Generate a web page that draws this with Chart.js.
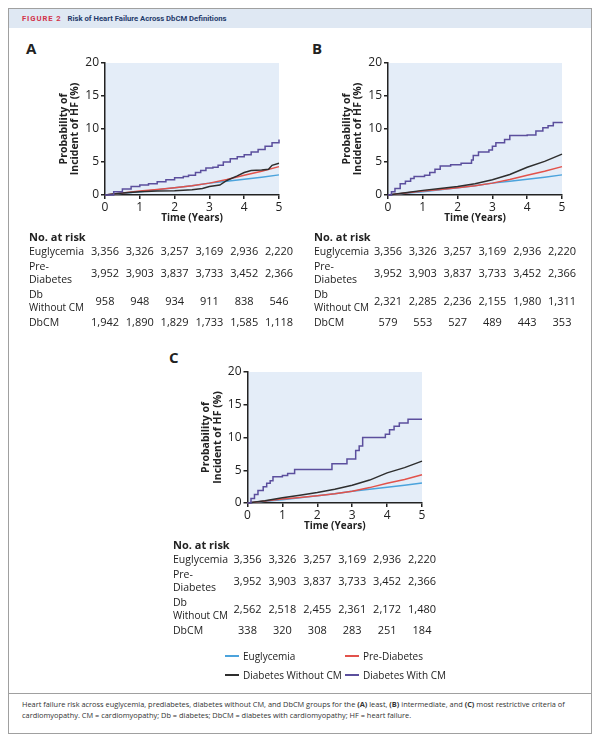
<!DOCTYPE html>
<html>
<head>
<meta charset="utf-8">
<script src="https://cdn.jsdelivr.net/npm/chart.js@4.4.1/dist/chart.umd.min.js"></script>
<style>
body{margin:0;background:#fff;font-family:"Open Sans",sans-serif;color:#222;}
#page{position:relative;width:600px;height:741px;overflow:hidden;background:#fff;}
.abs{position:absolute;}
#frame{left:8px;top:8px;width:582px;height:684px;border:1px solid #a0a0a0;}
#capbox{left:8px;top:692px;width:582px;height:41px;border:1px solid #a0a0a0;border-top:none;}
#header{left:9px;top:9px;width:582px;height:19px;background:#dfe8f3;font-family:Roboto,sans-serif;font-weight:bold;font-size:7.7px;line-height:19px;white-space:nowrap;}
#header .fig{color:#d2334a;letter-spacing:0.9px;margin-left:13px;margin-right:6px;}
#header .ttl{color:#1f3b6b;}
.letter{font-weight:bold;font-size:15px;color:#222;}
.panel{position:absolute;}
#caption{left:22px;top:699px;width:552px;font-size:7.4px;line-height:11px;color:#333;}
.leg{position:absolute;font-size:10px;white-space:nowrap;height:14px;line-height:14px;}
.leg span.ln{display:inline-block;width:14px;height:2px;margin-right:4px;position:relative;top:-3px;}
</style>
</head>
<body>
<div id="page">
  <div id="frame" class="abs"></div>
  <div id="capbox" class="abs"></div>
  <div id="header" class="abs"><span class="fig">FIGURE 2</span><span class="ttl">Risk of Heart Failure Across DbCM Definitions</span></div>
  <div class="abs letter" style="left:26px;top:38px;">A</div>
  <div class="abs letter" style="left:312px;top:38px;">B</div>
  <div class="abs letter" style="left:169px;top:347px;">C</div>
  <div class="panel" style="left:0px;top:30px;width:300px;height:310px;"><canvas id="chartA"></canvas></div>
  <div class="panel" style="left:300px;top:30px;width:290px;height:310px;"><canvas id="chartB"></canvas></div>
  <div class="panel" style="left:150px;top:340px;width:300px;height:310px;"><canvas id="chartC"></canvas></div>
  <div id="legend"></div>
  <div id="caption" class="abs">Heart failure risk across euglycemia, prediabetes, diabetes without CM, and DbCM groups for the <b>(A)</b> least, <b>(B)</b> intermediate, and <b>(C)</b> most restrictive criteria of cardiomyopathy. CM = cardiomyopathy; Db = diabetes; DbCM = diabetes with cardiomyopathy; HF = heart failure.</div>
</div>
<script>
// series names / colours
var seriesNames = ['Euglycemia', 'Pre-Diabetes', 'Diabetes Without CM', 'Diabetes With CM'];
var seriesColors = ['#4ba3dc', '#e2524b', '#2e2e2e', '#5b4f9d'];

// x ticks (years) = risk table columns
var years = [0, 1, 2, 3, 4, 5];
var yTicks = [0, 5, 10, 15, 20];

// risk table row labels
var riskLabels = [['Euglycemia'], ['Pre-', 'Diabetes'], ['Db', 'Without CM'], ['DbCM']];

// numbers at risk
var riskEuglycemia = ['3,356', '3,326', '3,257', '3,169', '2,936', '2,220'];
var riskPreDiabetes = ['3,952', '3,903', '3,837', '3,733', '3,452', '2,366'];
var riskDbA = ['958', '948', '934', '911', '838', '546'];
var riskDbcmA = ['1,942', '1,890', '1,829', '1,733', '1,585', '1,118'];
var riskDbB = ['2,321', '2,285', '2,236', '2,155', '1,980', '1,311'];
var riskDbcmB = ['579', '553', '527', '489', '443', '353'];
var riskDbC = ['2,562', '2,518', '2,455', '2,361', '2,172', '1,480'];
var riskDbcmC = ['338', '320', '308', '283', '251', '184'];

// cumulative incidence curves [years, %]
var euglycemiaCurve = [[0,0],[0.5,0.25],[1,0.5],[1.5,0.8],[2,1.1],[2.5,1.4],[3,1.8],[3.5,2.1],[4,2.4],[4.5,2.7],[5,3.05]];
var preDiabetesCurve = [[0,0],[0.5,0.3],[1,0.6],[1.5,0.85],[2,1.1],[2.5,1.4],[3,1.8],[3.5,2.35],[4,3.0],[4.5,3.6],[5,4.3]];

var dbCurveA = [[0,0],[0.5,0.3],[1,0.5],[1.5,0.6],[2,0.65],[2.5,0.8],[2.8,1.0],[3,1.3],[3.3,1.5],[3.5,2.2],[3.8,2.9],[4,3.4],[4.2,3.7],[4.5,3.8],[4.7,3.9],[4.8,4.5],[5,4.8]];
var dbcmCurveA = [[0,0],[0.25,0.5],[0.5,0.9],[0.75,1.3],[1,1.5],[1.25,1.7],[1.5,2.0],[1.75,2.3],[2,2.6],[2.25,2.8],[2.4,3.0],[2.6,3.4],[2.75,3.7],[2.9,4.1],[3.1,4.2],[3.25,4.5],[3.4,5.0],[3.6,5.5],[3.8,5.8],[4,6.1],[4.2,6.5],[4.4,6.9],[4.6,7.4],[4.8,7.9],[5,8.4]];

var dbCurveB = [[0,0],[0.5,0.35],[1,0.7],[1.5,1.0],[2,1.3],[2.5,1.7],[3,2.3],[3.5,3.1],[4,4.2],[4.5,5.1],[5,6.2]];
var dbcmCurveB = [[0,0],[0.1,0.5],[0.2,1.0],[0.35,1.7],[0.5,2.1],[0.65,2.5],[0.75,2.8],[1.05,3.0],[1.2,3.4],[1.35,3.9],[1.5,4.4],[1.8,4.6],[2.1,4.8],[2.4,5.3],[2.45,6.0],[2.6,6.5],[2.9,6.8],[3.0,7.4],[3.1,7.9],[3.35,8.4],[3.5,9.0],[4.0,9.1],[4.25,9.7],[4.45,10.2],[4.6,10.5],[4.75,11.0],[5,11.1]];

var dbCurveC = [[0,0],[0.5,0.35],[1,0.8],[1.5,1.2],[2,1.6],[2.5,2.1],[3,2.7],[3.5,3.5],[4,4.6],[4.5,5.4],[5,6.4]];
var dbcmCurveC = [[0,0],[0.1,0.7],[0.2,1.3],[0.3,1.9],[0.45,2.5],[0.55,3.0],[0.65,3.4],[0.73,4.0],[1.0,4.2],[1.15,4.5],[1.35,5.1],[2.42,6.0],[2.85,6.7],[3.1,8.0],[3.2,8.7],[3.3,10.0],[3.95,10.5],[4.07,11.2],[4.2,11.7],[4.35,12.2],[4.6,12.8],[5,12.8]];

function toPoints(curve){
    return curve.map(function(p){ return {x: p[0], y: p[1]}; });
}

// light blue plot background
var plotBg = {
    id: 'plotBg',
    beforeDraw: function(chart){
        var a = chart.chartArea, ctx = chart.ctx;
        ctx.save();
        ctx.fillStyle = '#e4edf8';
        ctx.fillRect(a.left, a.top, a.right - a.left, a.bottom - a.top);
        ctx.restore();
    }
};

// "No. at risk" table under the x axis, columns on the year ticks
function riskTable(rows, labelX){
    return {
        id: 'riskTable',
        afterDraw: function(chart){
            var ctx = chart.ctx, b = chart.chartArea.bottom, xs = chart.scales.x;
            var rowY = [57, 79, 107, 128];
            ctx.save();
            ctx.fillStyle = '#222';
            ctx.textBaseline = 'middle';
            ctx.font = 'bold 11px "Open Sans"';
            ctx.textAlign = 'left';
            ctx.fillText('No. at risk', labelX, b + 43);
            riskLabels.forEach(function(lab, r){
                ctx.font = '10.5px "Open Sans"';
                ctx.textAlign = 'left';
                // labels squeezed a bit so they don't run into the first column
                if(lab.length == 1){
                    ctx.fillText(lab[0], labelX, b + rowY[r], 56);
                }else{
                    ctx.fillText(lab[0], labelX, b + rowY[r] - 7, 56);
                    ctx.fillText(lab[1], labelX, b + rowY[r] + 6, 55);
                }
                ctx.font = '11px "Open Sans"';
                ctx.textAlign = 'center';
                years.forEach(function(t, i){
                    ctx.fillText(rows[r][i], xs.getPixelForValue(t), b + rowY[r]);
                });
            });
            ctx.restore();
        }
    };
}

function makePanel(id, dbCurve, dbcmCurve, rows, pad, labelX){
    var curves = [euglycemiaCurve, preDiabetesCurve, dbCurve, dbcmCurve];
    var axisColor = '#222';
    new Chart(document.getElementById(id), {
        type: 'line',
        data: {
            datasets: curves.map(function(c, i){
                return {
                    label: seriesNames[i],
                    data: toPoints(c),
                    borderColor: seriesColors[i],
                    borderWidth: 1.5,
                    pointRadius: 0,
                    stepped: i == 3,
                    fill: false,
                    clip: 4
                };
            }).reverse()
        },
        options: {
            responsive: true,
            maintainAspectRatio: false,
            animation: false,
            events: [],
            layout: { padding: pad },
            plugins: { legend: { display: false }, tooltip: { enabled: false } },
            scales: {
                x: {
                    type: 'linear', min: 0, max: 5,
                    afterFit: function(s){ s.height = 33; },
                    afterBuildTicks: function(s){ s.ticks = years.map(function(v){ return {value: v}; }); },
                    border: { display: true, color: axisColor, width: 1.5 },
                    grid: { display: true, drawOnChartArea: false, drawTicks: true, tickLength: 4, color: axisColor, lineWidth: 1.5 },
                    ticks: { color: '#222', padding: 1, font: { family: 'Open Sans', size: 12 } },
                    title: { display: true, text: 'Time (Years)', color: '#222', padding: { top: 0, bottom: 4 }, font: { family: 'Open Sans', size: 10, weight: 'bold' } }
                },
                y: {
                    min: 0, max: 20,
                    afterFit: function(s){ s.width = 50; },
                    afterBuildTicks: function(s){ s.ticks = yTicks.map(function(v){ return {value: v}; }); },
                    border: { display: true, color: axisColor, width: 1.5 },
                    grid: { display: true, drawOnChartArea: false, drawTicks: true, tickLength: 4, color: axisColor, lineWidth: 1.5 },
                    ticks: { color: '#222', padding: 2, font: { family: 'Open Sans', size: 12 } },
                    title: { display: true, text: ['Probability of', 'Incident of HF (%)'], color: '#222', padding: { top: 3, bottom: 0 }, font: { family: 'Open Sans', size: 10.5, weight: 'bold', lineHeight: 1.1 } }
                }
            }
        },
        plugins: [plotBg, riskTable(rows, labelX)]
    });
}

makePanel('chartA', dbCurveA, dbcmCurveA, [riskEuglycemia, riskPreDiabetes, riskDbA, riskDbcmA], {left: 55, right: 21, top: 33, bottom: 112}, 29);
makePanel('chartB', dbCurveB, dbcmCurveB, [riskEuglycemia, riskPreDiabetes, riskDbB, riskDbcmB], {left: 38, right: 28, top: 33, bottom: 112}, 14);
makePanel('chartC', dbCurveC, dbcmCurveC, [riskEuglycemia, riskPreDiabetes, riskDbC, riskDbcmC], {left: 47.5, right: 28, top: 32, bottom: 114}, 23);

// legend below panel C
var legendBox = document.getElementById('legend');
seriesNames.forEach(function(name, i){
    var d = document.createElement('div');
    d.className = 'leg';
    d.style.left = (i % 2 == 0 ? 225 : 345) + 'px';
    d.style.top = (649 + Math.floor(i / 2) * 19) + 'px';
    d.innerHTML = '<span class="ln" style="background:' + seriesColors[i] + '"></span>' + name;
    legendBox.appendChild(d);
});
</script>
</body>
</html>
